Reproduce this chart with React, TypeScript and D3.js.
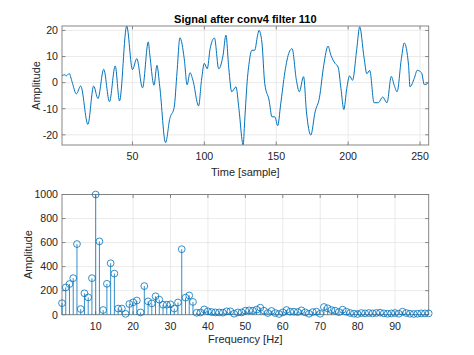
import React from "react";
import * as d3 from "d3";

// ---- Top plot: signal (sample index, amplitude) ----
const sampleIdx = [
  1, 3, 4, 6, 8, 11, 14, 19, 23, 26, 30, 34, 38, 41, 46, 50, 53, 57, 61, 62, 65, 67, 69, 73, 76, 79, 81, 83, 86, 88, 90, 92, 96, 98, 100, 102, 104, 107, 110, 113, 115, 117, 119, 122, 124, 127, 128, 130, 131, 133, 135, 137, 138, 140, 142, 145, 147, 149, 151, 153, 156, 159, 161, 164, 166, 169, 171, 174, 177, 180, 183, 186, 188, 191, 193, 195, 197, 199, 201, 203, 206, 208, 211, 213, 215, 218, 221, 224, 227, 230, 232, 234, 237, 239, 242, 243, 246, 248, 251, 253, 255, 256,
];
const signalVals = [
  2.7, 3.0, 2.6, 3.5, 0.3, -4.3, -1.3, -16.0, -1.3, -6.1, 5.1, -7.3, 6.4, -7.0, 21.7, 5.0, 9.2, -2.0, 15.6, 11.0, -1.0, 6.6, -1.6, -23.0, -13.7, -9.5, 4.1, 17.2, 9.2, -0.8, 3.8, 1.0, -8.9, 0.9, 7.4, 5.3, 13.0, 17.1, 5.3, 10.5, 18.2, 5.3, -3.5, -1.6, -9.9, -23.9, -15.0, 2.0, 7.0, 12.4, 12.4, 18.1, 20.0, 15.5, -0.4, -6.7, -13.1, -13.1, -16.5, -8.6, 4.1, 11.7, 13.0, 0.9, -3.5, 2.3, -11.2, -20.1, -11.2, -5.8, 6.6, 14.0, 10.5, 7.3, 6.0, -2.3, -10.3, -2.3, 2.6, 0.9, 13.0, 21.4, 9.8, 3.4, 4.7, -7.7, -7.7, -5.5, -7.7, 2.4, -1.0, -3.5, 9.2, 15.2, 6.6, -1.6, 1.7, 4.7, 3.8, -0.8, -0.4, 0.5,
];
const timeTicks = [50, 100, 150, 200, 250];
const ampTicksTop = [-20, -10, 0, 10, 20];

// ---- Bottom plot: spectrum amplitudes at 1..99 Hz ----
const spectrumAmp = [
  96, 227, 255, 304, 588, 47, 178, 144, 304, 1000,
  610, 39, 257, 428, 342, 51, 51, 7, 89, 103,
  118, 19, 238, 111, 94, 153, 125, 83, 83, 86,
  51, 102, 545, 142, 160, 106, 16, 18, 44, 28,
  22, 19, 19, 17, 28, 28, 8, 19, 19, 33,
  36, 33, 42, 58, 33, 14, 31, 14, 6, 19,
  39, 25, 25, 22, 36, 19, 8, 22, 25, 8,
  64, 53, 39, 33, 22, 42, 25, 14, 8, 6,
  14, 11, 14, 11, 14, 17, 11, 8, 11, 14,
  8, 25, 14, 8, 6, 8, 11, 11, 11,
];
const freqTicks = [10, 20, 30, 40, 50, 60, 70, 80, 90];
const ampTicksBottom = [0, 200, 400, 600, 800, 1000];

const W = 474;
const H = 355;
const FONT = "'Liberation Sans', Arial, Helvetica, sans-serif";
const LINE = "#0072BD";
const AXIS = "#7a7a7a";
const GRID = "#e4e4e4";
const TEXT = "#262626";

const L = 62;
const R = 428.7;

function Frame({ x, y, xTicks, yTicks, top, bottom }: any) {
  return (
    <g>
      {xTicks.map((t: number) => (
        <line key={"gx" + t} x1={x(t)} x2={x(t)} y1={top} y2={bottom} stroke={GRID} strokeWidth={0.8} />
      ))}
      {yTicks.map((t: number) => (
        <line key={"gy" + t} x1={L} x2={R} y1={y(t)} y2={y(t)} stroke={GRID} strokeWidth={0.8} />
      ))}
    </g>
  );
}

function Box({ x, y, xTicks, yTicks, top, bottom, yFmt, xLabelY, yLabelX, xLabel }: any) {
  const tl = 3.5;
  return (
    <g>
      <rect x={L} y={top} width={R - L} height={bottom - top} fill="none" stroke={AXIS} strokeWidth={0.9} />
      {xTicks.map((t: number) => (
        <g key={"tx" + t}>
          <line x1={x(t)} x2={x(t)} y1={bottom} y2={bottom - tl} stroke={AXIS} strokeWidth={0.9} />
          <line x1={x(t)} x2={x(t)} y1={top} y2={top + tl} stroke={AXIS} strokeWidth={0.9} />
          <text x={x(t)} y={bottom + 15.2} textAnchor="middle" fontSize={10.6} fill={TEXT} fontFamily={FONT}>
            {t}
          </text>
        </g>
      ))}
      {yTicks.map((t: number) => (
        <g key={"ty" + t}>
          <line x1={L} x2={L + tl} y1={y(t)} y2={y(t)} stroke={AXIS} strokeWidth={0.9} />
          <line x1={R} x2={R - tl} y1={y(t)} y2={y(t)} stroke={AXIS} strokeWidth={0.9} />
          <text x={L - 4} y={y(t) + 3.8} textAnchor="end" fontSize={10.6} fill={TEXT} fontFamily={FONT}>
            {yFmt(t)}
          </text>
        </g>
      ))}
      <text x={(L + R) / 2} y={xLabelY} textAnchor="middle" fontSize={11} fill={TEXT} fontFamily={FONT}>
        {xLabel}
      </text>
      <text
        transform={`translate(${yLabelX},${(top + bottom) / 2}) rotate(-90)`}
        textAnchor="middle"
        dy="0.35em"
        fontSize={11}
        fill={TEXT}
        fontFamily={FONT}
      >
        Amplitude
      </text>
    </g>
  );
}

export default function App() {
  // top
  const tTop = 26;
  const tBot = 145;
  const signal = sampleIdx.map((s, i) => [s, signalVals[i]] as [number, number]);
  const ext = d3.extent(signalVals) as [number, number];
  const x1 = d3.scaleLinear().domain([1, 256]).range([L, R]);
  const y1 = d3.scaleLinear().domain(ext).range([tBot, tTop]);
  const path = d3
    .line<[number, number]>()
    .x((d) => x1(d[0]))
    .y((d) => y1(d[1]))
    .curve(d3.curveMonotoneX)(signal);

  // bottom
  const bTop = 194.5;
  const bBot = 314.7;
  const x2 = d3.scaleLinear().domain([1, 99]).range([L, R]);
  const y2 = d3.scaleLinear().domain([0, 1000]).range([bBot, bTop]);
  const spec = spectrumAmp.map((a, i) => ({ f: i + 1, a }));

  return (
    <svg
      width={W}
      height={H}
      style={{ position: "absolute", left: 0, top: 0, background: "#fff" }}
      fontFamily={FONT}
    >
      <rect x={0} y={0} width={W} height={H} fill="#fff" />
      <defs>
        <clipPath id="clipTop">
          <rect x={L} y={tTop - 0.5} width={R - L} height={tBot - tTop + 1} />
        </clipPath>
      </defs>

      {/* Top subplot */}
      <Frame x={x1} y={y1} xTicks={timeTicks} yTicks={ampTicksTop} top={tTop} bottom={tBot} />
      <path d={path || ""} fill="none" stroke={LINE} strokeWidth={1} clipPath="url(#clipTop)" />
      <Box
        x={x1}
        y={y1}
        xTicks={timeTicks}
        yTicks={ampTicksTop}
        top={tTop}
        bottom={tBot}
        yFmt={(t: number) => String(t)}
        xLabelY={175.5}
        yLabelX={35.7}
        xLabel="Time [sample]"
      />
      <text x={(L + R) / 2} y={23} textAnchor="middle" fontSize={11} fontWeight="bold" fill="#000" fontFamily={FONT}>
        Signal after conv4 filter 110
      </text>

      {/* Bottom subplot */}
      <Frame x={x2} y={y2} xTicks={freqTicks} yTicks={ampTicksBottom} top={bTop} bottom={bBot} />
      <Box
        x={x2}
        y={y2}
        xTicks={freqTicks}
        yTicks={ampTicksBottom}
        top={bTop}
        bottom={bBot}
        yFmt={(t: number) => String(t)}
        xLabelY={343.2}
        yLabelX={27.7}
        xLabel="Frequency [Hz]"
      />
      {spec.map((d) => (
        <g key={"s" + d.f}>
          <line x1={x2(d.f)} x2={x2(d.f)} y1={y2(0)} y2={y2(d.a)} stroke={LINE} strokeWidth={0.8} />
          <circle cx={x2(d.f)} cy={y2(d.a)} r={3.4} fill="none" stroke={LINE} strokeWidth={0.8} />
        </g>
      ))}
    </svg>
  );
}
